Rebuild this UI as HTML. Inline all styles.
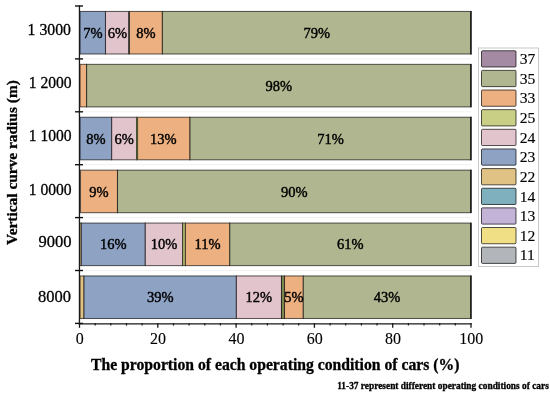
<!DOCTYPE html><html><head><meta charset="utf-8"><style>html,body{margin:0;padding:0;background:#fff;width:550px;height:396px;overflow:hidden}svg{display:block;filter:blur(0.3px)}text{font-family:"Liberation Serif","Times New Roman",serif;fill:#000;stroke:#000;stroke-width:0.3px}</style></head><body>
<svg width="550" height="396" viewBox="0 0 550 396">
<line x1="80" y1="58.90" x2="471" y2="58.90" stroke="#f1f1f1" stroke-width="1"/>
<line x1="80" y1="111.80" x2="471" y2="111.80" stroke="#f1f1f1" stroke-width="1"/>
<line x1="80" y1="164.70" x2="471" y2="164.70" stroke="#f1f1f1" stroke-width="1"/>
<line x1="80" y1="217.60" x2="471" y2="217.60" stroke="#f1f1f1" stroke-width="1"/>
<line x1="80" y1="270.50" x2="471" y2="270.50" stroke="#f1f1f1" stroke-width="1"/>
<rect x="80" y="11.45" width="25.5" height="42.55" fill="#8EA2C4" stroke="#000" stroke-opacity="0.62" stroke-width="1.05"/>
<rect x="105.5" y="11.45" width="23.6" height="42.55" fill="#E2C4CD" stroke="#000" stroke-opacity="0.62" stroke-width="1.05"/>
<rect x="129.1" y="11.45" width="33.3" height="42.55" fill="#EDB080" stroke="#000" stroke-opacity="0.62" stroke-width="1.05"/>
<rect x="162.4" y="11.45" width="308.6" height="42.55" fill="#B0B68F" stroke="#000" stroke-opacity="0.62" stroke-width="1.05"/>
<rect x="128.3" y="11.45" width="1.7" height="42.55" fill="#3a3a33"/>
<line x1="470.9" y1="11.05" x2="470.9" y2="54.40" stroke="#161616" stroke-width="1.5"/>
<text x="92.8" y="37.8" font-size="14.5" text-anchor="middle" style="stroke-width:0.42px">7%</text>
<text x="117.3" y="37.8" font-size="14.5" text-anchor="middle" style="stroke-width:0.42px">6%</text>
<text x="145.8" y="37.8" font-size="14.5" text-anchor="middle" style="stroke-width:0.42px">8%</text>
<text x="316.7" y="37.8" font-size="14.5" text-anchor="middle" style="stroke-width:0.42px">79%</text>
<text x="71.0" y="35.2" font-size="16.2" text-anchor="end" textLength="43.4" lengthAdjust="spacingAndGlyphs">1 3000</text>
<rect x="80" y="64.35" width="6.6" height="42.55" fill="#EDB080" stroke="#000" stroke-opacity="0.62" stroke-width="1.05"/>
<rect x="86.6" y="64.35" width="384.4" height="42.55" fill="#B0B68F" stroke="#000" stroke-opacity="0.62" stroke-width="1.05"/>
<line x1="470.9" y1="63.95" x2="470.9" y2="107.30" stroke="#161616" stroke-width="1.5"/>
<text x="278.8" y="90.7" font-size="14.5" text-anchor="middle" style="stroke-width:0.42px">98%</text>
<text x="71.6" y="88.0" font-size="16.2" text-anchor="end" textLength="42.9" lengthAdjust="spacingAndGlyphs">1 2000</text>
<rect x="80" y="117.25" width="31.7" height="42.55" fill="#8EA2C4" stroke="#000" stroke-opacity="0.62" stroke-width="1.05"/>
<rect x="111.7" y="117.25" width="24.9" height="42.55" fill="#E2C4CD" stroke="#000" stroke-opacity="0.62" stroke-width="1.05"/>
<rect x="136.6" y="117.25" width="53.4" height="42.55" fill="#EDB080" stroke="#000" stroke-opacity="0.62" stroke-width="1.05"/>
<rect x="190" y="117.25" width="281.0" height="42.55" fill="#B0B68F" stroke="#000" stroke-opacity="0.62" stroke-width="1.05"/>
<rect x="136.1" y="117.25" width="2.0" height="42.55" fill="#4b5432"/>
<line x1="470.9" y1="116.85" x2="470.9" y2="160.20" stroke="#161616" stroke-width="1.5"/>
<text x="95.8" y="143.6" font-size="14.5" text-anchor="middle" style="stroke-width:0.42px">8%</text>
<text x="124.2" y="143.6" font-size="14.5" text-anchor="middle" style="stroke-width:0.42px">6%</text>
<text x="163.3" y="143.6" font-size="14.5" text-anchor="middle" style="stroke-width:0.42px">13%</text>
<text x="330.5" y="143.6" font-size="14.5" text-anchor="middle" style="stroke-width:0.42px">71%</text>
<text x="71.6" y="140.8" font-size="16.2" text-anchor="end" textLength="42.9" lengthAdjust="spacingAndGlyphs">1 1000</text>
<rect x="80.5" y="170.15" width="37.0" height="42.55" fill="#EDB080" stroke="#000" stroke-opacity="0.62" stroke-width="1.05"/>
<rect x="117.5" y="170.15" width="353.5" height="42.55" fill="#B0B68F" stroke="#000" stroke-opacity="0.62" stroke-width="1.05"/>
<line x1="470.9" y1="169.75" x2="470.9" y2="213.10" stroke="#161616" stroke-width="1.5"/>
<text x="99.0" y="196.5" font-size="14.5" text-anchor="middle" style="stroke-width:0.42px">9%</text>
<text x="294.2" y="196.5" font-size="14.5" text-anchor="middle" style="stroke-width:0.42px">90%</text>
<text x="71.6" y="194.6" font-size="16.2" text-anchor="end" textLength="42.9" lengthAdjust="spacingAndGlyphs">1 0000</text>
<rect x="79.6" y="223.05" width="1.7" height="42.55" fill="#DFC284" stroke="#000" stroke-opacity="0.62" stroke-width="1.05"/>
<rect x="81.3" y="223.05" width="64.0" height="42.55" fill="#8EA2C4" stroke="#000" stroke-opacity="0.62" stroke-width="1.05"/>
<rect x="145.3" y="223.05" width="37.4" height="42.55" fill="#E2C4CD" stroke="#000" stroke-opacity="0.62" stroke-width="1.05"/>
<rect x="182.7" y="223.05" width="2.7" height="42.55" fill="#B9C474" stroke="#000" stroke-opacity="0.62" stroke-width="1.05"/>
<rect x="185.4" y="223.05" width="44.4" height="42.55" fill="#EDB080" stroke="#000" stroke-opacity="0.62" stroke-width="1.05"/>
<rect x="229.8" y="223.05" width="241.2" height="42.55" fill="#B0B68F" stroke="#000" stroke-opacity="0.62" stroke-width="1.05"/>
<line x1="470.9" y1="222.65" x2="470.9" y2="266.00" stroke="#161616" stroke-width="1.5"/>
<text x="113.3" y="249.4" font-size="14.5" text-anchor="middle" style="stroke-width:0.42px">16%</text>
<text x="164.0" y="249.4" font-size="14.5" text-anchor="middle" style="stroke-width:0.42px">10%</text>
<text x="207.6" y="249.4" font-size="14.5" text-anchor="middle" style="stroke-width:0.42px">11%</text>
<text x="350.4" y="249.4" font-size="14.5" text-anchor="middle" style="stroke-width:0.42px">61%</text>
<text x="71.6" y="247.1" font-size="16.2" text-anchor="end" textLength="33.0" lengthAdjust="spacingAndGlyphs">9000</text>
<rect x="80" y="275.95" width="4.0" height="42.55" fill="#DFC284" stroke="#000" stroke-opacity="0.62" stroke-width="1.05"/>
<rect x="84" y="275.95" width="152.4" height="42.55" fill="#8EA2C4" stroke="#000" stroke-opacity="0.62" stroke-width="1.05"/>
<rect x="236.4" y="275.95" width="45.1" height="42.55" fill="#E2C4CD" stroke="#000" stroke-opacity="0.62" stroke-width="1.05"/>
<rect x="281.5" y="275.95" width="3.0" height="42.55" fill="#7E8B52" stroke="#000" stroke-opacity="0.62" stroke-width="1.05"/>
<rect x="284.5" y="275.95" width="18.8" height="42.55" fill="#EDB080" stroke="#000" stroke-opacity="0.62" stroke-width="1.05"/>
<rect x="303.3" y="275.95" width="167.7" height="42.55" fill="#B0B68F" stroke="#000" stroke-opacity="0.62" stroke-width="1.05"/>
<line x1="470.9" y1="275.55" x2="470.9" y2="318.90" stroke="#161616" stroke-width="1.5"/>
<text x="160.2" y="302.3" font-size="14.5" text-anchor="middle" style="stroke-width:0.42px">39%</text>
<text x="258.9" y="302.3" font-size="14.5" text-anchor="middle" style="stroke-width:0.42px">12%</text>
<text x="293.9" y="302.3" font-size="14.5" text-anchor="middle" style="stroke-width:0.42px">5%</text>
<text x="387.1" y="302.3" font-size="14.5" text-anchor="middle" style="stroke-width:0.42px">43%</text>
<text x="70.9" y="301.6" font-size="16.2" text-anchor="end" textLength="33.0" lengthAdjust="spacingAndGlyphs">8000</text>
<line x1="79.45" y1="5.5" x2="79.45" y2="324.2" stroke="#1a1a1a" stroke-width="1.3"/>
<line x1="78.8" y1="323.85" x2="471.6" y2="323.85" stroke="#1a1a1a" stroke-width="1.4"/>
<line x1="75" y1="6.00" x2="83" y2="6.00" stroke="#111" stroke-width="1.4"/>
<line x1="75" y1="58.90" x2="83" y2="58.90" stroke="#111" stroke-width="1.4"/>
<line x1="75" y1="111.80" x2="83" y2="111.80" stroke="#111" stroke-width="1.4"/>
<line x1="75" y1="164.70" x2="83" y2="164.70" stroke="#111" stroke-width="1.4"/>
<line x1="75" y1="217.60" x2="83" y2="217.60" stroke="#111" stroke-width="1.4"/>
<line x1="75" y1="270.50" x2="83" y2="270.50" stroke="#111" stroke-width="1.4"/>
<line x1="75" y1="323.40" x2="83" y2="323.40" stroke="#111" stroke-width="1.4"/>
<line x1="79.5" y1="323" x2="79.5" y2="327.8" stroke="#1a1a1a" stroke-width="1.3"/>
<text x="79.8" y="344" font-size="16" text-anchor="middle" style="stroke-width:0.12px">0</text>
<line x1="95.2" y1="323" x2="95.2" y2="325.6" stroke="#1a1a1a" stroke-width="1.2"/>
<line x1="110.8" y1="323" x2="110.8" y2="325.6" stroke="#1a1a1a" stroke-width="1.2"/>
<line x1="126.5" y1="323" x2="126.5" y2="325.6" stroke="#1a1a1a" stroke-width="1.2"/>
<line x1="142.1" y1="323" x2="142.1" y2="325.6" stroke="#1a1a1a" stroke-width="1.2"/>
<line x1="157.8" y1="323" x2="157.8" y2="327.8" stroke="#1a1a1a" stroke-width="1.3"/>
<text x="158.1" y="344" font-size="16" text-anchor="middle" style="stroke-width:0.12px">20</text>
<line x1="173.5" y1="323" x2="173.5" y2="325.6" stroke="#1a1a1a" stroke-width="1.2"/>
<line x1="189.1" y1="323" x2="189.1" y2="325.6" stroke="#1a1a1a" stroke-width="1.2"/>
<line x1="204.8" y1="323" x2="204.8" y2="325.6" stroke="#1a1a1a" stroke-width="1.2"/>
<line x1="220.4" y1="323" x2="220.4" y2="325.6" stroke="#1a1a1a" stroke-width="1.2"/>
<line x1="236.1" y1="323" x2="236.1" y2="327.8" stroke="#1a1a1a" stroke-width="1.3"/>
<text x="236.4" y="344" font-size="16" text-anchor="middle" style="stroke-width:0.12px">40</text>
<line x1="251.8" y1="323" x2="251.8" y2="325.6" stroke="#1a1a1a" stroke-width="1.2"/>
<line x1="267.4" y1="323" x2="267.4" y2="325.6" stroke="#1a1a1a" stroke-width="1.2"/>
<line x1="283.1" y1="323" x2="283.1" y2="325.6" stroke="#1a1a1a" stroke-width="1.2"/>
<line x1="298.7" y1="323" x2="298.7" y2="325.6" stroke="#1a1a1a" stroke-width="1.2"/>
<line x1="314.4" y1="323" x2="314.4" y2="327.8" stroke="#1a1a1a" stroke-width="1.3"/>
<text x="314.7" y="344" font-size="16" text-anchor="middle" style="stroke-width:0.12px">60</text>
<line x1="330.1" y1="323" x2="330.1" y2="325.6" stroke="#1a1a1a" stroke-width="1.2"/>
<line x1="345.7" y1="323" x2="345.7" y2="325.6" stroke="#1a1a1a" stroke-width="1.2"/>
<line x1="361.4" y1="323" x2="361.4" y2="325.6" stroke="#1a1a1a" stroke-width="1.2"/>
<line x1="377.0" y1="323" x2="377.0" y2="325.6" stroke="#1a1a1a" stroke-width="1.2"/>
<line x1="392.7" y1="323" x2="392.7" y2="327.8" stroke="#1a1a1a" stroke-width="1.3"/>
<text x="393.0" y="344" font-size="16" text-anchor="middle" style="stroke-width:0.12px">80</text>
<line x1="408.4" y1="323" x2="408.4" y2="325.6" stroke="#1a1a1a" stroke-width="1.2"/>
<line x1="424.0" y1="323" x2="424.0" y2="325.6" stroke="#1a1a1a" stroke-width="1.2"/>
<line x1="439.7" y1="323" x2="439.7" y2="325.6" stroke="#1a1a1a" stroke-width="1.2"/>
<line x1="455.3" y1="323" x2="455.3" y2="325.6" stroke="#1a1a1a" stroke-width="1.2"/>
<line x1="471.0" y1="323" x2="471.0" y2="327.8" stroke="#1a1a1a" stroke-width="1.3"/>
<text x="471.3" y="344" font-size="16" text-anchor="middle" style="stroke-width:0.12px">100</text>
<text x="91" y="369.8" font-size="15.7" font-weight="bold">The proportion of each operating condition of cars (%)</text>
<text transform="translate(17,245) rotate(-90)" x="0" y="0" font-size="15.4" font-weight="bold">Vertical curve radius (m)</text>
<text x="337.2" y="388.8" font-size="9.37" font-weight="bold">11-37 represent different operating conditions of cars</text>
<rect x="478.5" y="48" width="60" height="218.5" fill="#fff" stroke="#c8c8c8" stroke-width="1"/>
<rect x="481.5" y="50.75" width="34.5" height="16.25" rx="1" fill="#A58AA3" stroke="#000" stroke-opacity="0.68" stroke-width="1"/>
<text x="519.8" y="64.05" font-size="15.6" style="stroke-width:0.15px">37</text>
<rect x="481.5" y="70.39" width="34.5" height="16.25" rx="1" fill="#B0B68F" stroke="#000" stroke-opacity="0.68" stroke-width="1"/>
<text x="519.8" y="83.69" font-size="15.6" style="stroke-width:0.15px">35</text>
<rect x="481.5" y="90.03" width="34.5" height="16.25" rx="1" fill="#EDB080" stroke="#000" stroke-opacity="0.68" stroke-width="1"/>
<text x="519.8" y="103.33" font-size="15.6" style="stroke-width:0.15px">33</text>
<rect x="481.5" y="109.67" width="34.5" height="16.25" rx="1" fill="#C9CF85" stroke="#000" stroke-opacity="0.68" stroke-width="1"/>
<text x="519.8" y="122.97" font-size="15.6" style="stroke-width:0.15px">25</text>
<rect x="481.5" y="129.31" width="34.5" height="16.25" rx="1" fill="#E2C4CD" stroke="#000" stroke-opacity="0.68" stroke-width="1"/>
<text x="519.8" y="142.61" font-size="15.6" style="stroke-width:0.15px">24</text>
<rect x="481.5" y="148.95" width="34.5" height="16.25" rx="1" fill="#8EA2C4" stroke="#000" stroke-opacity="0.68" stroke-width="1"/>
<text x="519.8" y="162.25" font-size="15.6" style="stroke-width:0.15px">23</text>
<rect x="481.5" y="168.59" width="34.5" height="16.25" rx="1" fill="#DFC284" stroke="#000" stroke-opacity="0.68" stroke-width="1"/>
<text x="519.8" y="181.89" font-size="15.6" style="stroke-width:0.15px">22</text>
<rect x="481.5" y="188.23" width="34.5" height="16.25" rx="1" fill="#7EB0BD" stroke="#000" stroke-opacity="0.68" stroke-width="1"/>
<text x="519.8" y="201.53" font-size="15.6" style="stroke-width:0.15px">14</text>
<rect x="481.5" y="207.87" width="34.5" height="16.25" rx="1" fill="#C2B3D7" stroke="#000" stroke-opacity="0.68" stroke-width="1"/>
<text x="519.8" y="221.17" font-size="15.6" style="stroke-width:0.15px">13</text>
<rect x="481.5" y="227.51" width="34.5" height="16.25" rx="1" fill="#F1DF85" stroke="#000" stroke-opacity="0.68" stroke-width="1"/>
<text x="519.8" y="240.81" font-size="15.6" style="stroke-width:0.15px">12</text>
<rect x="481.5" y="247.15" width="34.5" height="16.25" rx="1" fill="#B2B6BA" stroke="#000" stroke-opacity="0.68" stroke-width="1"/>
<text x="519.8" y="260.45" font-size="15.6" style="stroke-width:0.15px">11</text>
</svg></body></html>
